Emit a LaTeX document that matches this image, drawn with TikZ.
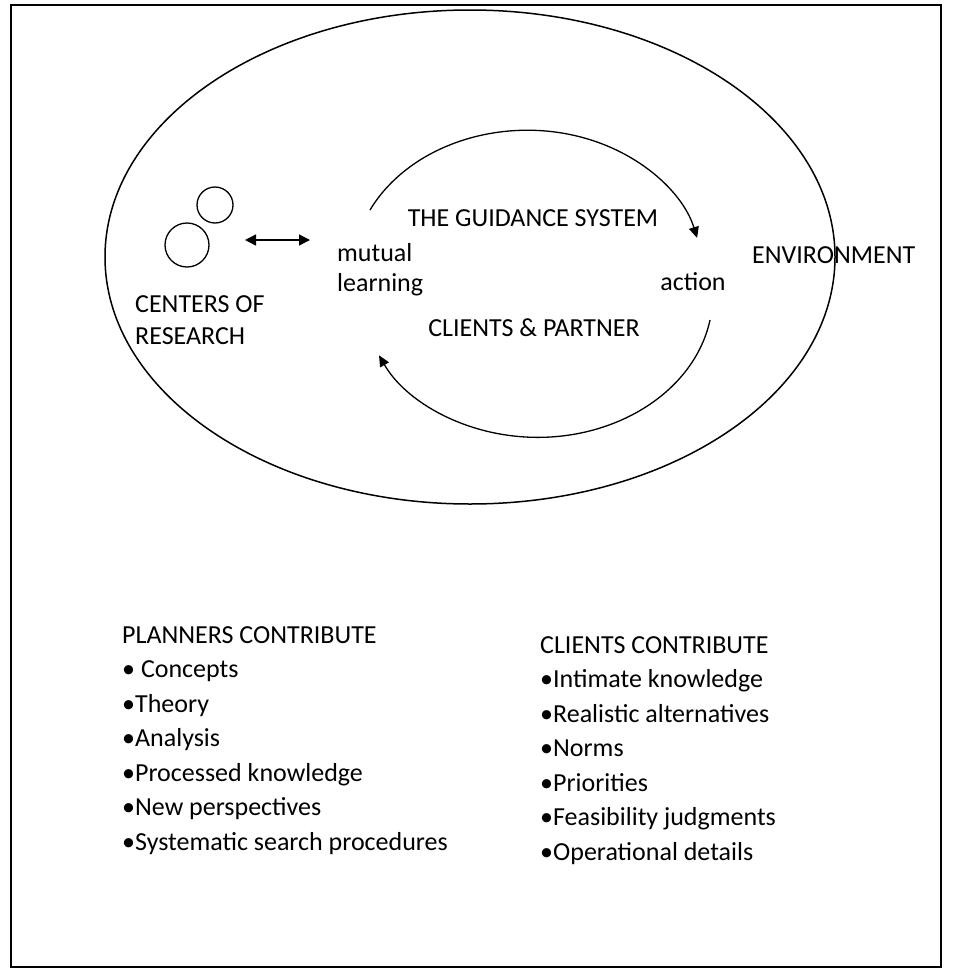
\documentclass[tikz,border=0pt]{standalone}
\usepackage{fontspec}
\setmainfont{Carlito}
\usetikzlibrary{arrows.meta,shapes.geometric}
\begin{document}
\begin{tikzpicture}[x=1pt,y=-1pt,
  txt/.style={font=\fontsize{26}{28}\selectfont,inner sep=0pt},
  lst/.style={font=\fontsize{26}{34.5}\selectfont,inner sep=0pt,align=left,anchor=north west},
  arr/.style={line width=1.3pt,-{Triangle[length=11pt,width=10pt]}}]
\useasboundingbox (0,0) rectangle (953,972);
\node[draw,line width=1.5pt,minimum width=930,minimum height=962,inner sep=0pt] (frame) at (476,486) {};
\node[draw,ellipse,line width=1.5pt,minimum width=730,minimum height=494,inner sep=0pt] (env) at (470,257) {};
\node[draw,circle,line width=1.3pt,minimum size=36,inner sep=0pt] (c1) at (215,205) {};
\node[draw,circle,line width=1.3pt,minimum size=44,inner sep=0pt] (c2) at (187,245) {};
\coordinate (da) at (245,240); \coordinate (db) at (310,240);
\draw[line width=1.3pt,{Triangle[length=11pt,width=11pt]}-{Triangle[length=11pt,width=11pt]}] (da) -- (db);
\coordinate (u0) at (370,210);
\draw[arr] (u0) arc[start angle=-154,end angle=-14,x radius=175,y radius=142];
\coordinate (l0) at (710,320);
\draw[arr] (l0) arc[start angle=10,end angle=155,x radius=175,y radius=142];
\node[txt] (gs) at (533,218) {THE GUIDANCE SYSTEM};
\node[txt,align=left,anchor=west] (ml) at (337,270) {mutual\\[2pt]learning};
\node[txt] (act) at (693,282) {action};
\node[txt,anchor=west] (envt) at (752,255) {ENVIRONMENT};
\node[txt,align=left,anchor=west] (cr) at (135,320) {CENTERS OF\\[4pt]RESEARCH};
\node[txt] (cp) at (534,328) {CLIENTS \& PARTNER};
\node[lst] (pl) at (122,626) {PLANNERS CONTRIBUTE\\\textbullet\ Concepts\\\textbullet Theory\\\textbullet Analysis\\\textbullet Processed knowledge\\\textbullet New perspectives\\\textbullet Systematic search procedures};
\node[lst] (cl) at (540,636) {CLIENTS CONTRIBUTE\\\textbullet Intimate knowledge\\\textbullet Realistic alternatives\\\textbullet Norms\\\textbullet Priorities\\\textbullet Feasibility judgments\\\textbullet Operational details};
\end{tikzpicture}
\end{document}
